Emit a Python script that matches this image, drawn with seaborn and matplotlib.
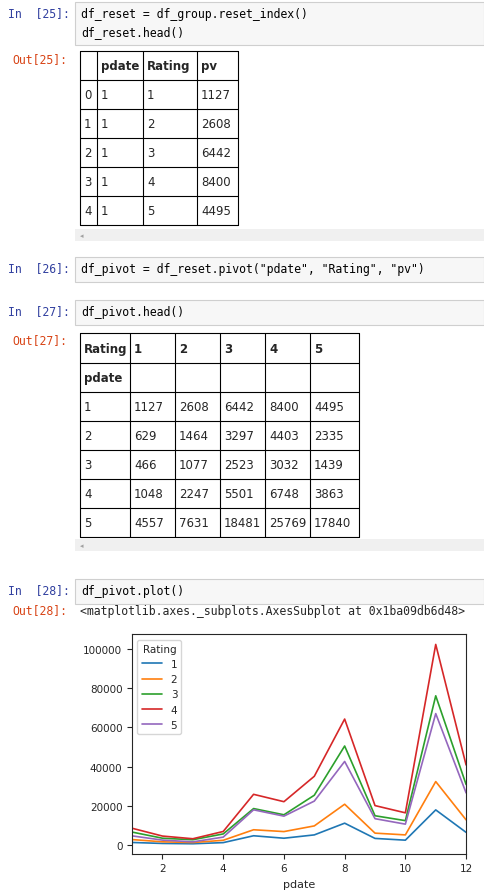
import matplotlib
matplotlib.use("Agg")
import matplotlib.pyplot as plt
from matplotlib.patches import Rectangle
import seaborn as sns
import pandas as pd

pdate = [1, 2, 3, 4, 5, 6, 7, 8, 9, 10, 11, 12]
r1 = [1127, 629, 466, 1048, 4557, 3300, 5000, 11000, 3200, 2300, 17800, 6300]
r2 = [2608, 1464, 1077, 2247, 7631, 6700, 9600, 20700, 5900, 5000, 32300, 12700]
r3 = [6442, 3297, 2523, 5501, 18481, 15300, 25300, 50500, 14800, 12300, 76200, 30800]
r4 = [8400, 4403, 3032, 6748, 25769, 22000, 35000, 64300, 20000, 16300, 102500, 40800]
r5 = [4495, 2335, 1439, 3863, 17840, 14600, 22300, 42600, 13300, 10500, 67100, 26500]
ratings = ["1", "2", "3", "4", "5"]

sns.set_style("ticks")
fig = plt.figure(figsize=(4.84, 8.95), dpi=100)
bg = fig.add_axes([0, 0, 1, 1])
bg.set_xlim(0, 484); bg.set_ylim(895, 0); bg.axis("off")
mono = dict(family="DejaVu Sans Mono", fontsize=8.3, va="center")

def codebox(y0, y1, prompt, lines):
    bg.add_patch(Rectangle((75, y0), 409, y1 - y0, fc="#f7f7f7", ec="#cfcfcf", lw=0.8))
    bg.text(8, y0 + 11, prompt, color="#303f9f", **mono)
    for i, l in enumerate(lines):
        bg.text(81, y0 + 11 + 19 * i, l, color="black", **mono)

def out(y, label):
    bg.text(12, y, label, color="#d84315", **mono)

def table(x_edges, y_edges, cells, bold_rows, bold_col0=True):
    for x in x_edges:
        bg.plot([x, x], [y_edges[0], y_edges[-1]], color="black", lw=0.8)
    for y in y_edges:
        bg.plot([x_edges[0], x_edges[-1]], [y, y], color="black", lw=0.8)
    for r, row in enumerate(cells):
        for c, val in enumerate(row):
            bold = r in bold_rows or (c == 0 and bold_col0 and r in bold_rows)
            bg.text(x_edges[c] + 4, (y_edges[r] + y_edges[r + 1]) / 2, val,
                    fontsize=8.5, va="center", fontweight="bold" if bold else "normal")

def scrollbar(y):
    bg.add_patch(Rectangle((75, y), 409, 12, fc="#f0f0f0", ec="none"))
    bg.text(80, y + 6, "◂", fontsize=5, va="center", color="#a0a0a0")

codebox(3, 46, "In  [25]:", ["df_reset = df_group.reset_index()", "df_reset.head()"])
out(60, "Out[25]:")
t1 = [["", "pdate", "Rating", "pv"]] + [[str(i), "1", str(i + 1), v] for i, v in
                                         enumerate(["1127", "2608", "6442", "8400", "4495"])]
table([80, 97, 143, 197, 238], [52 + 29 * i for i in range(7)], t1, {0})
scrollbar(230)

codebox(258, 283, "In  [26]:", ['df_pivot = df_reset.pivot("pdate", "Rating", "pv")'])
codebox(301, 326, "In  [27]:", ["df_pivot.head()"])
out(341, "Out[27]:")
t2 = [["Rating", "1", "2", "3", "4", "5"], ["pdate", "", "", "", "", ""]]
for i in range(5):
    t2.append([str(i + 1)] + [str(s[i]) for s in (r1, r2, r3, r4, r5)])
table([80, 130, 175, 220, 265, 310, 359], [334, 364] + [393 + 29 * i for i in range(6)], t2, {0, 1})
scrollbar(540)

codebox(580, 605, "In  [28]:", ["df_pivot.plot()"])
out(611, "Out[28]:")
bg.text(80, 611, "<matplotlib.axes._subplots.AxesSubplot at 0x1ba09db6d48>", **mono)

df = pd.DataFrame({"pdate": pdate * 5,
                   "pv": r1 + r2 + r3 + r4 + r5,
                   "Rating": sum([[r] * 12 for r in ratings], [])})
ax = fig.add_axes([0.273, 0.045, 0.69, 0.245])
sns.lineplot(data=df, x="pdate", y="pv", hue="Rating", palette="tab10", ax=ax, lw=1.2)
ax.set_xlim(1, 12)
ax.set_xticks([2, 4, 6, 8, 10, 12])
ax.set_yticks([0, 20000, 40000, 60000, 80000, 100000])
ax.set_ylabel("")
ax.set_xlabel("pdate", fontsize=8)
ax.tick_params(labelsize=7.5)
for s in ax.spines.values():
    s.set_visible(True); s.set_linewidth(0.8)
leg = ax.legend(title="Rating", loc="upper left", fontsize=7.5, title_fontsize=7.5, handlelength=2)
fig.savefig("out.png", dpi=100)
